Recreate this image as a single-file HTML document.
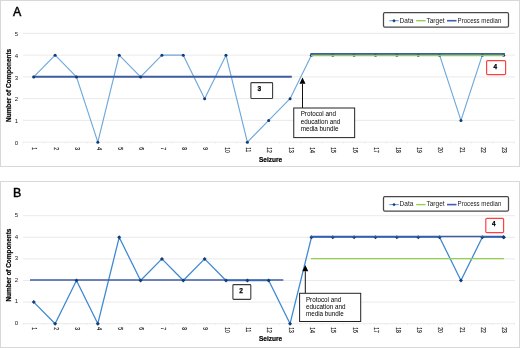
<!DOCTYPE html>
<html><head><meta charset="utf-8"><title>Run charts</title>
<style>
html,body{margin:0;padding:0;background:#fff;}
svg{display:block;font-family:"Liberation Sans",Arial,sans-serif;}
</style></head><body>
<svg width="520" height="348" viewBox="0 0 520 348">
<rect x="0" y="0" width="520" height="348" fill="#fff"/>
<rect x="0.5" y="0.5" width="519" height="166" fill="#fff" stroke="#d8d8d8" stroke-width="1"/>
<text transform="translate(12.9 16.3) scale(0.91 1)" font-size="13.6" fill="#000" stroke="#000" stroke-width="0.5">A</text>
<line x1="23" x2="515" y1="142.15" y2="142.15" stroke="#e4e4e4" stroke-width="0.8"/>
<line x1="23" x2="515" y1="120.4" y2="120.4" stroke="#e4e4e4" stroke-width="0.8"/>
<line x1="23" x2="515" y1="98.65" y2="98.65" stroke="#e4e4e4" stroke-width="0.8"/>
<line x1="23" x2="515" y1="76.9" y2="76.9" stroke="#e4e4e4" stroke-width="0.8"/>
<line x1="23" x2="515" y1="55.15" y2="55.15" stroke="#e4e4e4" stroke-width="0.8"/>
<line x1="23" x2="515" y1="33.4" y2="33.4" stroke="#e4e4e4" stroke-width="0.8"/>
<line x1="23.07" x2="23.07" y1="142.15" y2="143.65" stroke="#e4e4e4" stroke-width="0.6"/>
<line x1="44.43" x2="44.43" y1="142.15" y2="143.65" stroke="#e4e4e4" stroke-width="0.6"/>
<line x1="65.79" x2="65.79" y1="142.15" y2="143.65" stroke="#e4e4e4" stroke-width="0.6"/>
<line x1="87.15" x2="87.15" y1="142.15" y2="143.65" stroke="#e4e4e4" stroke-width="0.6"/>
<line x1="108.51" x2="108.51" y1="142.15" y2="143.65" stroke="#e4e4e4" stroke-width="0.6"/>
<line x1="129.87" x2="129.87" y1="142.15" y2="143.65" stroke="#e4e4e4" stroke-width="0.6"/>
<line x1="151.23" x2="151.23" y1="142.15" y2="143.65" stroke="#e4e4e4" stroke-width="0.6"/>
<line x1="172.59" x2="172.59" y1="142.15" y2="143.65" stroke="#e4e4e4" stroke-width="0.6"/>
<line x1="193.95" x2="193.95" y1="142.15" y2="143.65" stroke="#e4e4e4" stroke-width="0.6"/>
<line x1="215.31" x2="215.31" y1="142.15" y2="143.65" stroke="#e4e4e4" stroke-width="0.6"/>
<line x1="236.67" x2="236.67" y1="142.15" y2="143.65" stroke="#e4e4e4" stroke-width="0.6"/>
<line x1="258.03" x2="258.03" y1="142.15" y2="143.65" stroke="#e4e4e4" stroke-width="0.6"/>
<line x1="279.39" x2="279.39" y1="142.15" y2="143.65" stroke="#e4e4e4" stroke-width="0.6"/>
<line x1="300.75" x2="300.75" y1="142.15" y2="143.65" stroke="#e4e4e4" stroke-width="0.6"/>
<line x1="322.11" x2="322.11" y1="142.15" y2="143.65" stroke="#e4e4e4" stroke-width="0.6"/>
<line x1="343.47" x2="343.47" y1="142.15" y2="143.65" stroke="#e4e4e4" stroke-width="0.6"/>
<line x1="364.83" x2="364.83" y1="142.15" y2="143.65" stroke="#e4e4e4" stroke-width="0.6"/>
<line x1="386.19" x2="386.19" y1="142.15" y2="143.65" stroke="#e4e4e4" stroke-width="0.6"/>
<line x1="407.55" x2="407.55" y1="142.15" y2="143.65" stroke="#e4e4e4" stroke-width="0.6"/>
<line x1="428.91" x2="428.91" y1="142.15" y2="143.65" stroke="#e4e4e4" stroke-width="0.6"/>
<line x1="450.27" x2="450.27" y1="142.15" y2="143.65" stroke="#e4e4e4" stroke-width="0.6"/>
<line x1="471.63" x2="471.63" y1="142.15" y2="143.65" stroke="#e4e4e4" stroke-width="0.6"/>
<line x1="492.99" x2="492.99" y1="142.15" y2="143.65" stroke="#e4e4e4" stroke-width="0.6"/>
<line x1="514.35" x2="514.35" y1="142.15" y2="143.65" stroke="#e4e4e4" stroke-width="0.6"/>
<text x="18.2" y="144.95" font-size="6.1" text-anchor="end" fill="#222">0</text>
<text x="18.2" y="123.2" font-size="6.1" text-anchor="end" fill="#222">1</text>
<text x="18.2" y="101.45" font-size="6.1" text-anchor="end" fill="#222">2</text>
<text x="18.2" y="79.7" font-size="6.1" text-anchor="end" fill="#222">3</text>
<text x="18.2" y="57.95" font-size="6.1" text-anchor="end" fill="#222">4</text>
<text x="18.2" y="36.2" font-size="6.1" text-anchor="end" fill="#222">5</text>
<text transform="translate(11.1 85.4) rotate(-90)" font-size="6.42" font-weight="bold" text-anchor="middle" fill="#000" stroke="#000" stroke-width="0.2">Number of Components</text>
<text transform="translate(32.45 147.15) rotate(90) scale(0.8 1.06)" font-size="6.3" fill="#1a1a1a" stroke="#1a1a1a" stroke-width="0.15">1</text>
<text transform="translate(53.81 147.15) rotate(90) scale(0.8 1.06)" font-size="6.3" fill="#1a1a1a" stroke="#1a1a1a" stroke-width="0.15">2</text>
<text transform="translate(75.17 147.15) rotate(90) scale(0.8 1.06)" font-size="6.3" fill="#1a1a1a" stroke="#1a1a1a" stroke-width="0.15">3</text>
<text transform="translate(96.53 147.15) rotate(90) scale(0.8 1.06)" font-size="6.3" fill="#1a1a1a" stroke="#1a1a1a" stroke-width="0.15">4</text>
<text transform="translate(117.89 147.15) rotate(90) scale(0.8 1.06)" font-size="6.3" fill="#1a1a1a" stroke="#1a1a1a" stroke-width="0.15">5</text>
<text transform="translate(139.25 147.15) rotate(90) scale(0.8 1.06)" font-size="6.3" fill="#1a1a1a" stroke="#1a1a1a" stroke-width="0.15">6</text>
<text transform="translate(160.61 147.15) rotate(90) scale(0.8 1.06)" font-size="6.3" fill="#1a1a1a" stroke="#1a1a1a" stroke-width="0.15">7</text>
<text transform="translate(181.97 147.15) rotate(90) scale(0.8 1.06)" font-size="6.3" fill="#1a1a1a" stroke="#1a1a1a" stroke-width="0.15">8</text>
<text transform="translate(203.33 147.15) rotate(90) scale(0.8 1.06)" font-size="6.3" fill="#1a1a1a" stroke="#1a1a1a" stroke-width="0.15">9</text>
<text transform="translate(224.69 147.15) rotate(90) scale(0.8 1.06)" font-size="6.3" fill="#1a1a1a" stroke="#1a1a1a" stroke-width="0.15">10</text>
<text transform="translate(246.05 147.15) rotate(90) scale(0.8 1.06)" font-size="6.3" fill="#1a1a1a" stroke="#1a1a1a" stroke-width="0.15">11</text>
<text transform="translate(267.41 147.15) rotate(90) scale(0.8 1.06)" font-size="6.3" fill="#1a1a1a" stroke="#1a1a1a" stroke-width="0.15">12</text>
<text transform="translate(288.77 147.15) rotate(90) scale(0.8 1.06)" font-size="6.3" fill="#1a1a1a" stroke="#1a1a1a" stroke-width="0.15">13</text>
<text transform="translate(310.13 147.15) rotate(90) scale(0.8 1.06)" font-size="6.3" fill="#1a1a1a" stroke="#1a1a1a" stroke-width="0.15">14</text>
<text transform="translate(331.49 147.15) rotate(90) scale(0.8 1.06)" font-size="6.3" fill="#1a1a1a" stroke="#1a1a1a" stroke-width="0.15">15</text>
<text transform="translate(352.85 147.15) rotate(90) scale(0.8 1.06)" font-size="6.3" fill="#1a1a1a" stroke="#1a1a1a" stroke-width="0.15">16</text>
<text transform="translate(374.21 147.15) rotate(90) scale(0.8 1.06)" font-size="6.3" fill="#1a1a1a" stroke="#1a1a1a" stroke-width="0.15">17</text>
<text transform="translate(395.57 147.15) rotate(90) scale(0.8 1.06)" font-size="6.3" fill="#1a1a1a" stroke="#1a1a1a" stroke-width="0.15">18</text>
<text transform="translate(416.93 147.15) rotate(90) scale(0.8 1.06)" font-size="6.3" fill="#1a1a1a" stroke="#1a1a1a" stroke-width="0.15">19</text>
<text transform="translate(438.29 147.15) rotate(90) scale(0.8 1.06)" font-size="6.3" fill="#1a1a1a" stroke="#1a1a1a" stroke-width="0.15">20</text>
<text transform="translate(459.65 147.15) rotate(90) scale(0.8 1.06)" font-size="6.3" fill="#1a1a1a" stroke="#1a1a1a" stroke-width="0.15">21</text>
<text transform="translate(481.01 147.15) rotate(90) scale(0.8 1.06)" font-size="6.3" fill="#1a1a1a" stroke="#1a1a1a" stroke-width="0.15">22</text>
<text transform="translate(502.37 147.15) rotate(90) scale(0.8 1.06)" font-size="6.3" fill="#1a1a1a" stroke="#1a1a1a" stroke-width="0.15">23</text>
<text x="270.5" y="162.15" font-size="6.5" font-weight="bold" text-anchor="middle" fill="#000" stroke="#000" stroke-width="0.2">Seizure</text>
<polyline points="33.75,76.9 55.11,55.15 76.47,76.9 97.83,142.15 119.19,55.15 140.55,76.9 161.91,55.15 183.27,55.15 204.63,98.65 225.99,55.15 247.35,142.15 268.71,120.4 290.07,98.65 311.43,55.15 332.79,55.15 354.15,55.15 375.51,55.15 396.87,55.15 418.23,55.15 439.59,55.15 460.95,120.4 482.31,55.15 503.67,55.15" fill="none" stroke="#6da8dd" stroke-width="1.15" stroke-linejoin="round"/>
<circle cx="311.43" cy="55.15" r="1.5" fill="#123c74"/>
<circle cx="332.79" cy="55.15" r="1.5" fill="#123c74"/>
<circle cx="354.15" cy="55.15" r="1.5" fill="#123c74"/>
<circle cx="375.51" cy="55.15" r="1.5" fill="#123c74"/>
<circle cx="396.87" cy="55.15" r="1.5" fill="#123c74"/>
<circle cx="418.23" cy="55.15" r="1.5" fill="#123c74"/>
<circle cx="439.59" cy="55.15" r="1.5" fill="#123c74"/>
<circle cx="460.95" cy="120.4" r="1.5" fill="#123c74"/>
<circle cx="482.31" cy="55.15" r="1.5" fill="#123c74"/>
<circle cx="503.67" cy="55.15" r="1.5" fill="#123c74"/>
<line x1="310.93" x2="503.97" y1="55.55" y2="55.55" stroke="#92d050" stroke-width="1.4"/>
<line x1="32.5" x2="291.8" y1="76.75" y2="76.75" stroke="#3d5ca2" stroke-width="1.8"/>
<line x1="310.43" x2="504.87" y1="53.95" y2="53.95" stroke="#3d5ca2" stroke-width="1.8"/>
<circle cx="33.75" cy="76.9" r="1.5" fill="#123c74"/>
<circle cx="55.11" cy="55.15" r="1.5" fill="#123c74"/>
<circle cx="76.47" cy="76.9" r="1.5" fill="#123c74"/>
<circle cx="97.83" cy="142.15" r="1.5" fill="#123c74"/>
<circle cx="119.19" cy="55.15" r="1.5" fill="#123c74"/>
<circle cx="140.55" cy="76.9" r="1.5" fill="#123c74"/>
<circle cx="161.91" cy="55.15" r="1.5" fill="#123c74"/>
<circle cx="183.27" cy="55.15" r="1.5" fill="#123c74"/>
<circle cx="204.63" cy="98.65" r="1.5" fill="#123c74"/>
<circle cx="225.99" cy="55.15" r="1.5" fill="#123c74"/>
<circle cx="247.35" cy="142.15" r="1.5" fill="#123c74"/>
<circle cx="268.71" cy="120.4" r="1.5" fill="#123c74"/>
<circle cx="290.07" cy="98.65" r="1.5" fill="#123c74"/>
<rect x="383.5" y="12.7" width="125" height="14.4" rx="1.4" fill="#fff" stroke="#484848" stroke-width="1.25"/>
<line x1="389.2" x2="398.8" y1="20.7" y2="20.7" stroke="#6da8dd" stroke-width="1.1"/>
<polygon points="394,19 395.7,20.7 394,22.4 392.3,20.7" fill="#123c74"/>
<text x="399.6" y="23" font-size="6.5" fill="#1a1a1a">Data</text>
<line x1="416.2" x2="425.6" y1="20.7" y2="20.7" stroke="#92d050" stroke-width="1.4"/>
<text x="426.5" y="23" font-size="6.5" fill="#1a1a1a">Target</text>
<line x1="447" x2="456.5" y1="20.7" y2="20.7" stroke="#3f5fa6" stroke-width="1.6"/>
<text x="457.6" y="23" font-size="6.5" fill="#1a1a1a" textLength="43.8" lengthAdjust="spacingAndGlyphs">Process median</text>
<rect x="250.9" y="82.65" width="21.7" height="15.8" rx="0.8" fill="#fff" stroke="#3c3c3c" stroke-width="1.1"/>
<text x="259.45" y="90.85" font-size="6.6" font-weight="bold" text-anchor="middle" fill="#000" stroke="#000" stroke-width="0.25">3</text>
<rect x="486.6" y="60.6" width="19" height="14" rx="1.2" fill="#fff" stroke="#ff4040" stroke-width="1.2"/>
<text x="495.3" y="68.9" font-size="6.4" font-weight="bold" text-anchor="middle" fill="#000" stroke="#000" stroke-width="0.25">4</text>
<line x1="302.5" x2="302.5" y1="83.8" y2="108" stroke="#111" stroke-width="1"/>
<polygon points="302.5,77.5 299.5,83.8 305.5,83.8" fill="#000"/>
<rect x="293.75" y="108" width="60.9" height="29.6" fill="#fff" stroke="#222" stroke-width="1"/>
<text x="300.65" y="116.3" font-size="6.3" fill="#000">Protocol and</text>
<text x="300.65" y="123.6" font-size="6.3" fill="#000">education and</text>
<text x="300.65" y="130.9" font-size="6.3" fill="#000">media bundle</text>
<rect x="0.5" y="181.5" width="519" height="166" fill="#fff" stroke="#d8d8d8" stroke-width="1"/>
<text transform="translate(12.9 196.8) scale(0.91 1)" font-size="13.6" fill="#000" stroke="#000" stroke-width="0.5">B</text>
<line x1="23" x2="515" y1="323.7" y2="323.7" stroke="#e4e4e4" stroke-width="0.8"/>
<line x1="23" x2="515" y1="302.1" y2="302.1" stroke="#e4e4e4" stroke-width="0.8"/>
<line x1="23" x2="515" y1="280.5" y2="280.5" stroke="#e4e4e4" stroke-width="0.8"/>
<line x1="23" x2="515" y1="258.9" y2="258.9" stroke="#e4e4e4" stroke-width="0.8"/>
<line x1="23" x2="515" y1="237.3" y2="237.3" stroke="#e4e4e4" stroke-width="0.8"/>
<line x1="23" x2="515" y1="215.7" y2="215.7" stroke="#e4e4e4" stroke-width="0.8"/>
<line x1="23.07" x2="23.07" y1="323.7" y2="325.2" stroke="#e4e4e4" stroke-width="0.6"/>
<line x1="44.43" x2="44.43" y1="323.7" y2="325.2" stroke="#e4e4e4" stroke-width="0.6"/>
<line x1="65.79" x2="65.79" y1="323.7" y2="325.2" stroke="#e4e4e4" stroke-width="0.6"/>
<line x1="87.15" x2="87.15" y1="323.7" y2="325.2" stroke="#e4e4e4" stroke-width="0.6"/>
<line x1="108.51" x2="108.51" y1="323.7" y2="325.2" stroke="#e4e4e4" stroke-width="0.6"/>
<line x1="129.87" x2="129.87" y1="323.7" y2="325.2" stroke="#e4e4e4" stroke-width="0.6"/>
<line x1="151.23" x2="151.23" y1="323.7" y2="325.2" stroke="#e4e4e4" stroke-width="0.6"/>
<line x1="172.59" x2="172.59" y1="323.7" y2="325.2" stroke="#e4e4e4" stroke-width="0.6"/>
<line x1="193.95" x2="193.95" y1="323.7" y2="325.2" stroke="#e4e4e4" stroke-width="0.6"/>
<line x1="215.31" x2="215.31" y1="323.7" y2="325.2" stroke="#e4e4e4" stroke-width="0.6"/>
<line x1="236.67" x2="236.67" y1="323.7" y2="325.2" stroke="#e4e4e4" stroke-width="0.6"/>
<line x1="258.03" x2="258.03" y1="323.7" y2="325.2" stroke="#e4e4e4" stroke-width="0.6"/>
<line x1="279.39" x2="279.39" y1="323.7" y2="325.2" stroke="#e4e4e4" stroke-width="0.6"/>
<line x1="300.75" x2="300.75" y1="323.7" y2="325.2" stroke="#e4e4e4" stroke-width="0.6"/>
<line x1="322.11" x2="322.11" y1="323.7" y2="325.2" stroke="#e4e4e4" stroke-width="0.6"/>
<line x1="343.47" x2="343.47" y1="323.7" y2="325.2" stroke="#e4e4e4" stroke-width="0.6"/>
<line x1="364.83" x2="364.83" y1="323.7" y2="325.2" stroke="#e4e4e4" stroke-width="0.6"/>
<line x1="386.19" x2="386.19" y1="323.7" y2="325.2" stroke="#e4e4e4" stroke-width="0.6"/>
<line x1="407.55" x2="407.55" y1="323.7" y2="325.2" stroke="#e4e4e4" stroke-width="0.6"/>
<line x1="428.91" x2="428.91" y1="323.7" y2="325.2" stroke="#e4e4e4" stroke-width="0.6"/>
<line x1="450.27" x2="450.27" y1="323.7" y2="325.2" stroke="#e4e4e4" stroke-width="0.6"/>
<line x1="471.63" x2="471.63" y1="323.7" y2="325.2" stroke="#e4e4e4" stroke-width="0.6"/>
<line x1="492.99" x2="492.99" y1="323.7" y2="325.2" stroke="#e4e4e4" stroke-width="0.6"/>
<line x1="514.35" x2="514.35" y1="323.7" y2="325.2" stroke="#e4e4e4" stroke-width="0.6"/>
<text x="18.2" y="325" font-size="6.1" text-anchor="end" fill="#222">0</text>
<text x="18.2" y="303.4" font-size="6.1" text-anchor="end" fill="#222">1</text>
<text x="18.2" y="281.8" font-size="6.1" text-anchor="end" fill="#222">2</text>
<text x="18.2" y="260.2" font-size="6.1" text-anchor="end" fill="#222">3</text>
<text x="18.2" y="238.6" font-size="6.1" text-anchor="end" fill="#222">4</text>
<text x="18.2" y="217" font-size="6.1" text-anchor="end" fill="#222">5</text>
<text transform="translate(11.1 265.1) rotate(-90)" font-size="6.42" font-weight="bold" text-anchor="middle" fill="#000" stroke="#000" stroke-width="0.2">Number of Components</text>
<text transform="translate(32.45 327.2) rotate(90) scale(0.8 1.06)" font-size="6.3" fill="#1a1a1a" stroke="#1a1a1a" stroke-width="0.15">1</text>
<text transform="translate(53.81 327.2) rotate(90) scale(0.8 1.06)" font-size="6.3" fill="#1a1a1a" stroke="#1a1a1a" stroke-width="0.15">2</text>
<text transform="translate(75.17 327.2) rotate(90) scale(0.8 1.06)" font-size="6.3" fill="#1a1a1a" stroke="#1a1a1a" stroke-width="0.15">3</text>
<text transform="translate(96.53 327.2) rotate(90) scale(0.8 1.06)" font-size="6.3" fill="#1a1a1a" stroke="#1a1a1a" stroke-width="0.15">4</text>
<text transform="translate(117.89 327.2) rotate(90) scale(0.8 1.06)" font-size="6.3" fill="#1a1a1a" stroke="#1a1a1a" stroke-width="0.15">5</text>
<text transform="translate(139.25 327.2) rotate(90) scale(0.8 1.06)" font-size="6.3" fill="#1a1a1a" stroke="#1a1a1a" stroke-width="0.15">6</text>
<text transform="translate(160.61 327.2) rotate(90) scale(0.8 1.06)" font-size="6.3" fill="#1a1a1a" stroke="#1a1a1a" stroke-width="0.15">7</text>
<text transform="translate(181.97 327.2) rotate(90) scale(0.8 1.06)" font-size="6.3" fill="#1a1a1a" stroke="#1a1a1a" stroke-width="0.15">8</text>
<text transform="translate(203.33 327.2) rotate(90) scale(0.8 1.06)" font-size="6.3" fill="#1a1a1a" stroke="#1a1a1a" stroke-width="0.15">9</text>
<text transform="translate(224.69 327.2) rotate(90) scale(0.8 1.06)" font-size="6.3" fill="#1a1a1a" stroke="#1a1a1a" stroke-width="0.15">10</text>
<text transform="translate(246.05 327.2) rotate(90) scale(0.8 1.06)" font-size="6.3" fill="#1a1a1a" stroke="#1a1a1a" stroke-width="0.15">11</text>
<text transform="translate(267.41 327.2) rotate(90) scale(0.8 1.06)" font-size="6.3" fill="#1a1a1a" stroke="#1a1a1a" stroke-width="0.15">12</text>
<text transform="translate(288.77 327.2) rotate(90) scale(0.8 1.06)" font-size="6.3" fill="#1a1a1a" stroke="#1a1a1a" stroke-width="0.15">13</text>
<text transform="translate(310.13 327.2) rotate(90) scale(0.8 1.06)" font-size="6.3" fill="#1a1a1a" stroke="#1a1a1a" stroke-width="0.15">14</text>
<text transform="translate(331.49 327.2) rotate(90) scale(0.8 1.06)" font-size="6.3" fill="#1a1a1a" stroke="#1a1a1a" stroke-width="0.15">15</text>
<text transform="translate(352.85 327.2) rotate(90) scale(0.8 1.06)" font-size="6.3" fill="#1a1a1a" stroke="#1a1a1a" stroke-width="0.15">16</text>
<text transform="translate(374.21 327.2) rotate(90) scale(0.8 1.06)" font-size="6.3" fill="#1a1a1a" stroke="#1a1a1a" stroke-width="0.15">17</text>
<text transform="translate(395.57 327.2) rotate(90) scale(0.8 1.06)" font-size="6.3" fill="#1a1a1a" stroke="#1a1a1a" stroke-width="0.15">18</text>
<text transform="translate(416.93 327.2) rotate(90) scale(0.8 1.06)" font-size="6.3" fill="#1a1a1a" stroke="#1a1a1a" stroke-width="0.15">19</text>
<text transform="translate(438.29 327.2) rotate(90) scale(0.8 1.06)" font-size="6.3" fill="#1a1a1a" stroke="#1a1a1a" stroke-width="0.15">20</text>
<text transform="translate(459.65 327.2) rotate(90) scale(0.8 1.06)" font-size="6.3" fill="#1a1a1a" stroke="#1a1a1a" stroke-width="0.15">21</text>
<text transform="translate(481.01 327.2) rotate(90) scale(0.8 1.06)" font-size="6.3" fill="#1a1a1a" stroke="#1a1a1a" stroke-width="0.15">22</text>
<text transform="translate(502.37 327.2) rotate(90) scale(0.8 1.06)" font-size="6.3" fill="#1a1a1a" stroke="#1a1a1a" stroke-width="0.15">23</text>
<text x="270.5" y="341.3" font-size="6.5" font-weight="bold" text-anchor="middle" fill="#000" stroke="#000" stroke-width="0.2">Seizure</text>
<polyline points="33.75,302.1 55.11,323.7 76.47,280.5 97.83,323.7 119.19,237.3 140.55,280.5 161.91,258.9 183.27,280.5 204.63,258.9 225.99,280.5 247.35,280.5 268.71,280.5 290.07,323.7 311.43,237.3 332.79,237.3 354.15,237.3 375.51,237.3 396.87,237.3 418.23,237.3 439.59,237.3 460.95,280.5 482.31,237.3 503.67,237.3" fill="none" stroke="#3d88d2" stroke-width="1.28" stroke-linejoin="round"/>
<polygon points="311.43,235.3 313.43,237.3 311.43,239.3 309.43,237.3" fill="#123c74"/>
<polygon points="332.79,235.3 334.79,237.3 332.79,239.3 330.79,237.3" fill="#123c74"/>
<polygon points="354.15,235.3 356.15,237.3 354.15,239.3 352.15,237.3" fill="#123c74"/>
<polygon points="375.51,235.3 377.51,237.3 375.51,239.3 373.51,237.3" fill="#123c74"/>
<polygon points="396.87,235.3 398.87,237.3 396.87,239.3 394.87,237.3" fill="#123c74"/>
<polygon points="418.23,235.3 420.23,237.3 418.23,239.3 416.23,237.3" fill="#123c74"/>
<polygon points="439.59,235.3 441.59,237.3 439.59,239.3 437.59,237.3" fill="#123c74"/>
<polygon points="460.95,278.5 462.95,280.5 460.95,282.5 458.95,280.5" fill="#123c74"/>
<polygon points="482.31,235.3 484.31,237.3 482.31,239.3 480.31,237.3" fill="#123c74"/>
<polygon points="503.67,235.3 505.67,237.3 503.67,239.3 501.67,237.3" fill="#123c74"/>
<line x1="310.93" x2="503.97" y1="258.6" y2="258.6" stroke="#92d050" stroke-width="1.4"/>
<line x1="30" x2="283.3" y1="279.9" y2="279.9" stroke="#3d5ca2" stroke-width="1.5"/>
<line x1="310.43" x2="503.97" y1="236.4" y2="236.4" stroke="#3d5ca2" stroke-width="1.5"/>
<polygon points="33.75,300.1 35.75,302.1 33.75,304.1 31.75,302.1" fill="#123c74"/>
<polygon points="55.11,321.7 57.11,323.7 55.11,325.7 53.11,323.7" fill="#123c74"/>
<polygon points="76.47,278.5 78.47,280.5 76.47,282.5 74.47,280.5" fill="#123c74"/>
<polygon points="97.83,321.7 99.83,323.7 97.83,325.7 95.83,323.7" fill="#123c74"/>
<polygon points="119.19,235.3 121.19,237.3 119.19,239.3 117.19,237.3" fill="#123c74"/>
<polygon points="140.55,278.5 142.55,280.5 140.55,282.5 138.55,280.5" fill="#123c74"/>
<polygon points="161.91,256.9 163.91,258.9 161.91,260.9 159.91,258.9" fill="#123c74"/>
<polygon points="183.27,278.5 185.27,280.5 183.27,282.5 181.27,280.5" fill="#123c74"/>
<polygon points="204.63,256.9 206.63,258.9 204.63,260.9 202.63,258.9" fill="#123c74"/>
<polygon points="225.99,278.5 227.99,280.5 225.99,282.5 223.99,280.5" fill="#123c74"/>
<polygon points="247.35,278.5 249.35,280.5 247.35,282.5 245.35,280.5" fill="#123c74"/>
<polygon points="268.71,278.5 270.71,280.5 268.71,282.5 266.71,280.5" fill="#123c74"/>
<polygon points="290.07,321.7 292.07,323.7 290.07,325.7 288.07,323.7" fill="#123c74"/>
<polygon points="503.67,235.3 505.67,237.3 503.67,239.3 501.67,237.3" fill="#123c74"/>
<rect x="383.5" y="196.7" width="125" height="14.4" rx="1.4" fill="#fff" stroke="#484848" stroke-width="1.25"/>
<line x1="389.2" x2="398.8" y1="204.6" y2="204.6" stroke="#6da8dd" stroke-width="1.1"/>
<polygon points="394,202.9 395.7,204.6 394,206.3 392.3,204.6" fill="#123c74"/>
<text x="399.6" y="206.2" font-size="6.5" fill="#1a1a1a">Data</text>
<line x1="416.2" x2="425.6" y1="204.6" y2="204.6" stroke="#92d050" stroke-width="1.4"/>
<text x="426.5" y="206.2" font-size="6.5" fill="#1a1a1a">Target</text>
<line x1="447" x2="456.5" y1="204.6" y2="204.6" stroke="#3f5fa6" stroke-width="1.6"/>
<text x="457.6" y="206.2" font-size="6.5" fill="#1a1a1a" textLength="43.8" lengthAdjust="spacingAndGlyphs">Process median</text>
<rect x="232.9" y="284.6" width="17.9" height="14.8" rx="0.8" fill="#fff" stroke="#3c3c3c" stroke-width="1.1"/>
<text x="241.15" y="292.8" font-size="6.6" font-weight="bold" text-anchor="middle" fill="#000" stroke="#000" stroke-width="0.25">2</text>
<rect x="485.8" y="218.4" width="17.8" height="14.2" rx="1.2" fill="#fff" stroke="#ff4040" stroke-width="1.2"/>
<text x="493.9" y="226" font-size="6.4" font-weight="bold" text-anchor="middle" fill="#000" stroke="#000" stroke-width="0.25">4</text>
<line x1="305.3" x2="305.3" y1="271.3" y2="293.3" stroke="#111" stroke-width="1"/>
<polygon points="305.3,265 302.3,271.3 308.3,271.3" fill="#000"/>
<rect x="299.6" y="293.3" width="61.1" height="28.2" fill="#fff" stroke="#222" stroke-width="1"/>
<text x="305.9" y="301.5" font-size="6.3" fill="#000">Protocol and</text>
<text x="305.9" y="308.8" font-size="6.3" fill="#000">education and</text>
<text x="305.9" y="316.1" font-size="6.3" fill="#000">media bundle</text>
</svg>
</body></html>
